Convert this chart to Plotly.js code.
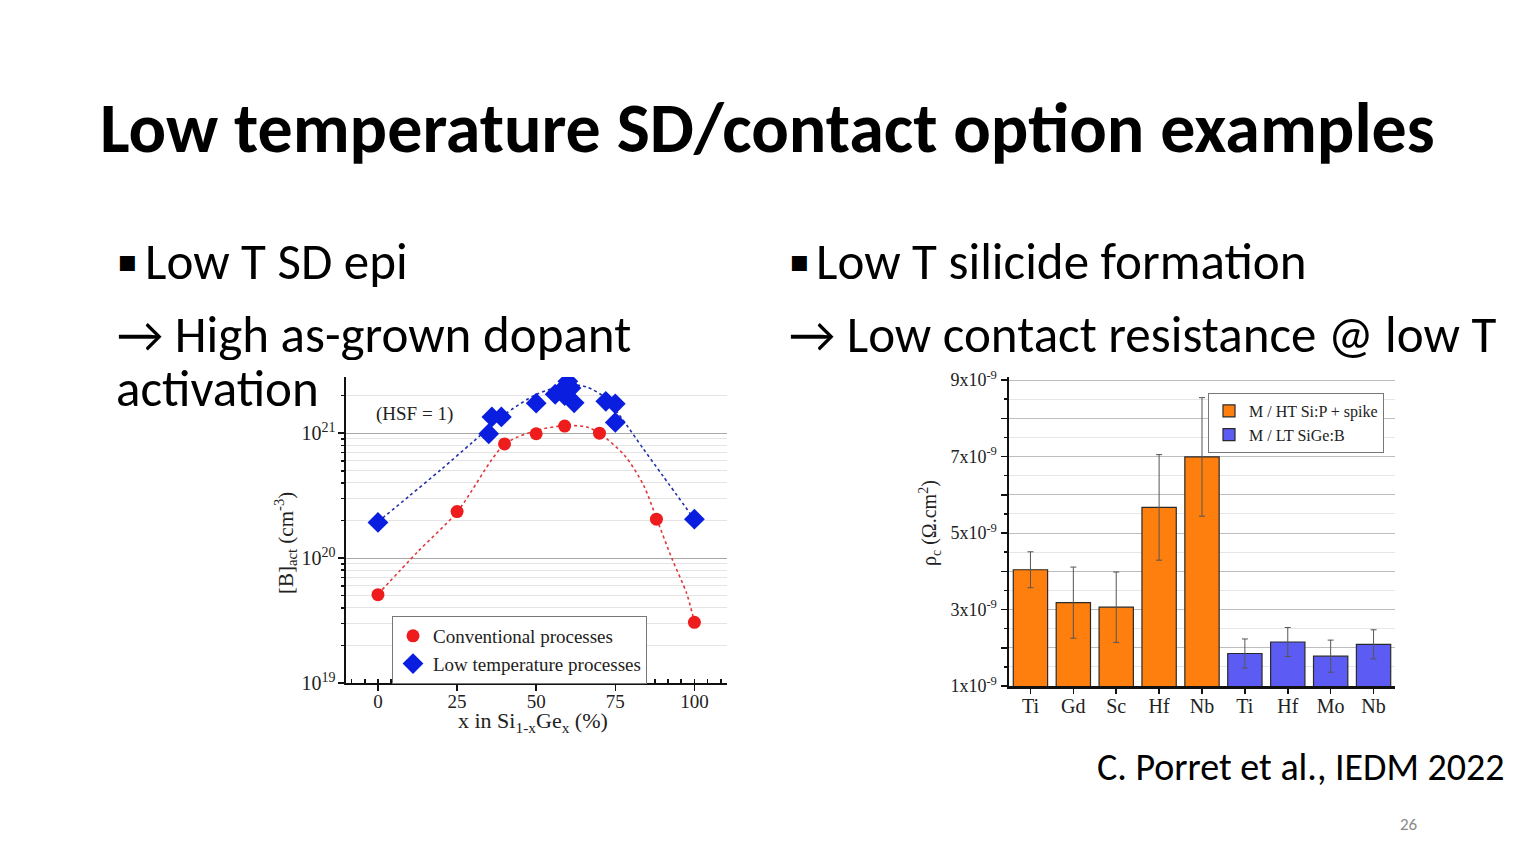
<!DOCTYPE html>
<html>
<head>
<meta charset="utf-8">
<script src="https://cdn.plot.ly/plotly-3.0.1.min.js"></script>
<style>
html,body{margin:0;padding:0;background:#fff;}
#chart{width:1536px;height:864px;}
</style>
</head>
<body>
<div id="chart"></div>
<script>
// ---------- Left chart data: active boron vs Ge content ----------
const convX = [0, 25, 40, 50, 59, 70, 88, 100];
const convB = [5.1e19, 2.36e20, 8.2e20, 9.9e20, 1.14e21, 1.0e21, 2.05e20, 3.06e19];

const lowTX = [0, 35, 36, 39, 50, 56, 58, 59, 60, 61, 62, 72, 75, 75, 100];
const lowTB = [1.93e20, 9.9e20, 1.35e21, 1.35e21, 1.74e21, 2.05e21, 2.2e21, 2.0e21, 2.6e21, 2.3e21, 1.75e21, 1.8e21, 1.72e21, 1.22e21, 2.05e20];

// dotted guide curves
const convFitX = [0, 12.5, 25, 40, 50, 59, 66, 70, 78, 84, 88, 93, 97.5, 100];
const convFitB = [5.13e19, 1.12e20, 2.34e20, 8.13e20, 1.05e21, 1.15e21, 1.12e21, 1.0e21, 6.61e20, 3.8e20, 2.09e20, 9.77e19, 5.25e19, 3.09e19];
const lowTFitX = [0, 10, 20, 30, 40, 50, 60, 66, 72, 77, 84, 90, 100];
const lowTFitB = [1.95e20, 3.16e20, 5.13e20, 8.51e20, 1.41e21, 2.04e21, 2.45e21, 2.34e21, 1.91e21, 1.32e21, 7.41e20, 4.57e20, 2.04e20];

const leftXTicks = [0, 25, 50, 75, 100];
const leftYTicks = [1e19, 1e20, 1e21];
const leftYTickText = ['10<sup>19</sup>', '10<sup>20</sup>', '10<sup>21</sup>'];

// ---------- Right chart data: contact resistivity (units of 1e-9 Ohm.cm2) ----------
const htCats = ['Ti', 'Gd', 'Sc', 'Hf', 'Nb'];
const htRho = [4.04, 3.18, 3.06, 5.67, 6.99];
const htErr = [0.47, 0.93, 0.92, 1.38, 1.55];
const ltCats = ['Ti', 'Hf', 'Mo', 'Nb'];
const ltRho = [1.85, 2.15, 1.78, 2.09];
const ltErr = [0.38, 0.38, 0.42, 0.38];
const rightYTicks = [1, 2, 3, 4, 5, 6, 7, 8, 9];
const rightYTickText = ['1x10<sup>-9</sup>', ' ', '3x10<sup>-9</sup>', ' ', '5x10<sup>-9</sup>', ' ', '7x10<sup>-9</sup>', ' ', '9x10<sup>-9</sup>'];

const allCats = htCats.concat(ltCats);
const htX = htCats.map((c, i) => i);
const ltX = ltCats.map((c, i) => i + htCats.length);
const catPos = allCats.map((c, i) => i);

// minor grid positions for log axis (2..9 per decade)
const logMinor = [];
[1e19, 1e20, 1e21].forEach(d => { for (let k = 2; k <= 9; k++) logMinor.push(k * d); });

const SERIF = 'Liberation Serif, Times New Roman, serif';
const SANS = 'Carlito, Lato, sans-serif';
const W = 1536, H = 864;
const px = v => v / W, py = v => 1 - v / H;

const traces = [
  {x: convFitX, y: convFitB, xaxis: 'x', yaxis: 'y', mode: 'lines', showlegend: false, hoverinfo: 'skip',
   line: {color: '#e0383c', width: 1.6, dash: 'dot', shape: 'spline', smoothing: 0.8}},
  {x: lowTFitX, y: lowTFitB, xaxis: 'x', yaxis: 'y', mode: 'lines', showlegend: false, hoverinfo: 'skip',
   line: {color: '#2230a8', width: 1.6, dash: 'dot', shape: 'spline', smoothing: 0.8}},
  {x: convX, y: convB, xaxis: 'x', yaxis: 'y', mode: 'markers', name: 'Conventional processes',
   marker: {symbol: 'circle', size: 13, color: '#ee1c1c'}},
  {x: lowTX, y: lowTB, xaxis: 'x', yaxis: 'y', mode: 'markers', name: 'Low temperature processes',
   marker: {symbol: 'diamond', size: 16, color: '#0a1ee0'}},
  {type: 'bar', x: htX, y: htRho, xaxis: 'x2', yaxis: 'y2', name: 'M / HT Si:P + spike', legend: 'legend2',
   marker: {color: '#ff7f0e', line: {color: '#2a2a2a', width: 1.2}},
   error_y: {type: 'data', array: htErr, visible: true, color: '#555', thickness: 1, width: 3}},
  {type: 'bar', x: ltX, y: ltRho, xaxis: 'x2', yaxis: 'y2', name: 'M / LT SiGe:B', legend: 'legend2',
   marker: {color: '#5c5cf4', line: {color: '#2a2a2a', width: 1.2}},
   error_y: {type: 'data', array: ltErr, visible: true, color: '#555', thickness: 1, width: 3}}
];

const layout = {
  width: W, height: H,
  margin: {l: 0, r: 0, t: 0, b: 0},
  paper_bgcolor: '#fff', plot_bgcolor: '#fff',
  showlegend: true,
  barmode: 'overlay', bargap: 0.2,
  xaxis: {
    domain: [px(346), px(727)], anchor: 'y', range: [-10.1, 110.3],
    tickmode: 'array', tickvals: leftXTicks, ticks: 'outside', ticklen: 6, tickwidth: 1.5, tickcolor: '#111',
    ticklabelstandoff: -6,
    showline: true, linecolor: '#111', linewidth: 2, showgrid: false, zeroline: false,
    tickfont: {family: SERIF, size: 19, color: '#222'},
    minor: {dtick: 25 / 6, tick0: 0, ticks: 'inside', ticklen: 4, tickcolor: '#111', showgrid: false}
  },
  yaxis: {
    domain: [py(683), py(377)], anchor: 'x', type: 'log', range: [19, 21.45],
    tickmode: 'array', tickvals: leftYTicks, ticktext: leftYTickText,
    ticks: 'outside', ticklen: 6, tickwidth: 1.5, tickcolor: '#111', ticklabelstandoff: -2,
    showline: true, linecolor: '#111', linewidth: 2.5,
    showgrid: true, gridcolor: '#a8a8a8', gridwidth: 1, zeroline: false,
    tickfont: {family: SERIF, size: 20, color: '#222'},
    minor: {tickmode: 'array', tickvals: logMinor, ticks: 'outside', ticklen: 3, tickcolor: '#111',
            showgrid: true, gridcolor: '#e4e4e4', gridwidth: 1}
  },
  xaxis2: {
    domain: [px(1009), px(1395)], anchor: 'y2', range: [-0.5, 8.5],
    tickmode: 'array', tickvals: catPos, ticktext: allCats,
    ticks: 'outside', ticklen: 5, tickwidth: 1.5, tickcolor: '#111',
    ticklabelstandoff: -5,
    showline: true, linecolor: '#111', linewidth: 2.5, showgrid: false, zeroline: false,
    tickfont: {family: SERIF, size: 20, color: '#222'}
  },
  yaxis2: {
    domain: [py(686), py(377)], anchor: 'x2', range: [1, 9.08],
    tickmode: 'array', tickvals: rightYTicks, ticktext: rightYTickText,
    ticks: 'outside', ticklen: 6, tickwidth: 1.5, tickcolor: '#111',
    showline: true, linecolor: '#111', linewidth: 2.5,
    showgrid: true, gridcolor: '#bdbdbd', gridwidth: 1, zeroline: false,
    tickfont: {family: SERIF, size: 18, color: '#222'},
    minor: {dtick: 0.5, tick0: 1, ticks: 'outside', ticklen: 3, tickcolor: '#111',
            showgrid: true, gridcolor: '#e6e6e6', gridwidth: 1}
  },
  legend: {
    x: px(392), y: py(616), xanchor: 'left', yanchor: 'top',
    bgcolor: '#fff', bordercolor: '#777', borderwidth: 1,
    font: {family: SERIF, size: 19, color: '#222'}, tracegroupgap: 0, itemwidth: 30
  },
  legend2: {
    x: px(1208), y: py(393), xanchor: 'left', yanchor: 'top',
    bgcolor: '#fff', bordercolor: '#777', borderwidth: 1,
    font: {family: SERIF, size: 16, color: '#222'}, tracegroupgap: 0
  },
  annotations: [
    {text: '<b>Low temperature SD/contact option examples</b>', x: px(767), y: py(128), xref: 'paper', yref: 'paper',
     showarrow: false, xanchor: 'center', yanchor: 'middle', font: {family: SANS, size: 70, color: '#000'}},
    {text: '▪', x: px(115), y: py(261), xref: 'paper', yref: 'paper', showarrow: false, xanchor: 'left', yanchor: 'middle',
     font: {family: 'DejaVu Sans', size: 30, color: '#000'}},
    {text: 'Low T SD epi', x: px(143), y: py(262), xref: 'paper', yref: 'paper', showarrow: false, xanchor: 'left', yanchor: 'middle',
     font: {family: SANS, size: 51, color: '#000'}},
    {text: '→ High as-grown dopant', x: px(115), y: py(334), xref: 'paper', yref: 'paper', showarrow: false, xanchor: 'left', yanchor: 'middle',
     height: 52, font: {family: SANS, size: 51, color: '#000'}},
    {text: 'activation', x: px(114), y: py(388), xref: 'paper', yref: 'paper', showarrow: false, xanchor: 'left', yanchor: 'middle',
     height: 52, font: {family: SANS, size: 51, color: '#000'}},
    {text: '▪', x: px(787), y: py(261), xref: 'paper', yref: 'paper', showarrow: false, xanchor: 'left', yanchor: 'middle',
     font: {family: 'DejaVu Sans', size: 30, color: '#000'}},
    {text: 'Low T silicide formation', x: px(814), y: py(262), xref: 'paper', yref: 'paper', showarrow: false, xanchor: 'left', yanchor: 'middle',
     font: {family: SANS, size: 51, color: '#000'}},
    {text: '→ Low contact resistance @ low T', x: px(787), y: py(334), xref: 'paper', yref: 'paper', showarrow: false, xanchor: 'left', yanchor: 'middle',
     font: {family: SANS, size: 51, color: '#000'}},
    {text: 'C. Porret et al., IEDM 2022', x: px(1507), y: py(767), xref: 'paper', yref: 'paper', showarrow: false, xanchor: 'right', yanchor: 'middle',
     font: {family: SANS, size: 38, color: '#000'}},
    {text: '26', x: px(1409), y: py(824), xref: 'paper', yref: 'paper', showarrow: false, xanchor: 'center', yanchor: 'middle',
     font: {family: SANS, size: 17, color: '#888'}},
    {text: '(HSF = 1)', x: px(374), y: py(414), xref: 'paper', yref: 'paper', showarrow: false, xanchor: 'left', yanchor: 'middle',
     font: {family: SERIF, size: 19, color: '#222'}},
    {text: '[B]<sub>act</sub> (cm<sup>-3</sup>)', x: px(285), y: py(543), xref: 'paper', yref: 'paper', showarrow: false,
     textangle: -90, xanchor: 'center', yanchor: 'middle', font: {family: SERIF, size: 21, color: '#222'}},
    {text: 'x in Si<sub>1-x</sub>Ge<sub>x</sub> (%)', x: px(533), y: py(722), xref: 'paper', yref: 'paper', showarrow: false,
     xanchor: 'center', yanchor: 'middle', font: {family: SERIF, size: 22, color: '#222'}},
    {text: 'ρ<sub>c</sub> (Ω.cm<sup>2</sup>)', x: px(930), y: py(523), xref: 'paper', yref: 'paper', showarrow: false,
     textangle: -90, xanchor: 'center', yanchor: 'middle', font: {family: SERIF, size: 20, color: '#222'}}
  ]
};

Plotly.newPlot('chart', traces, layout, {displayModeBar: false, staticPlot: true});
</script>
</body>
</html>
